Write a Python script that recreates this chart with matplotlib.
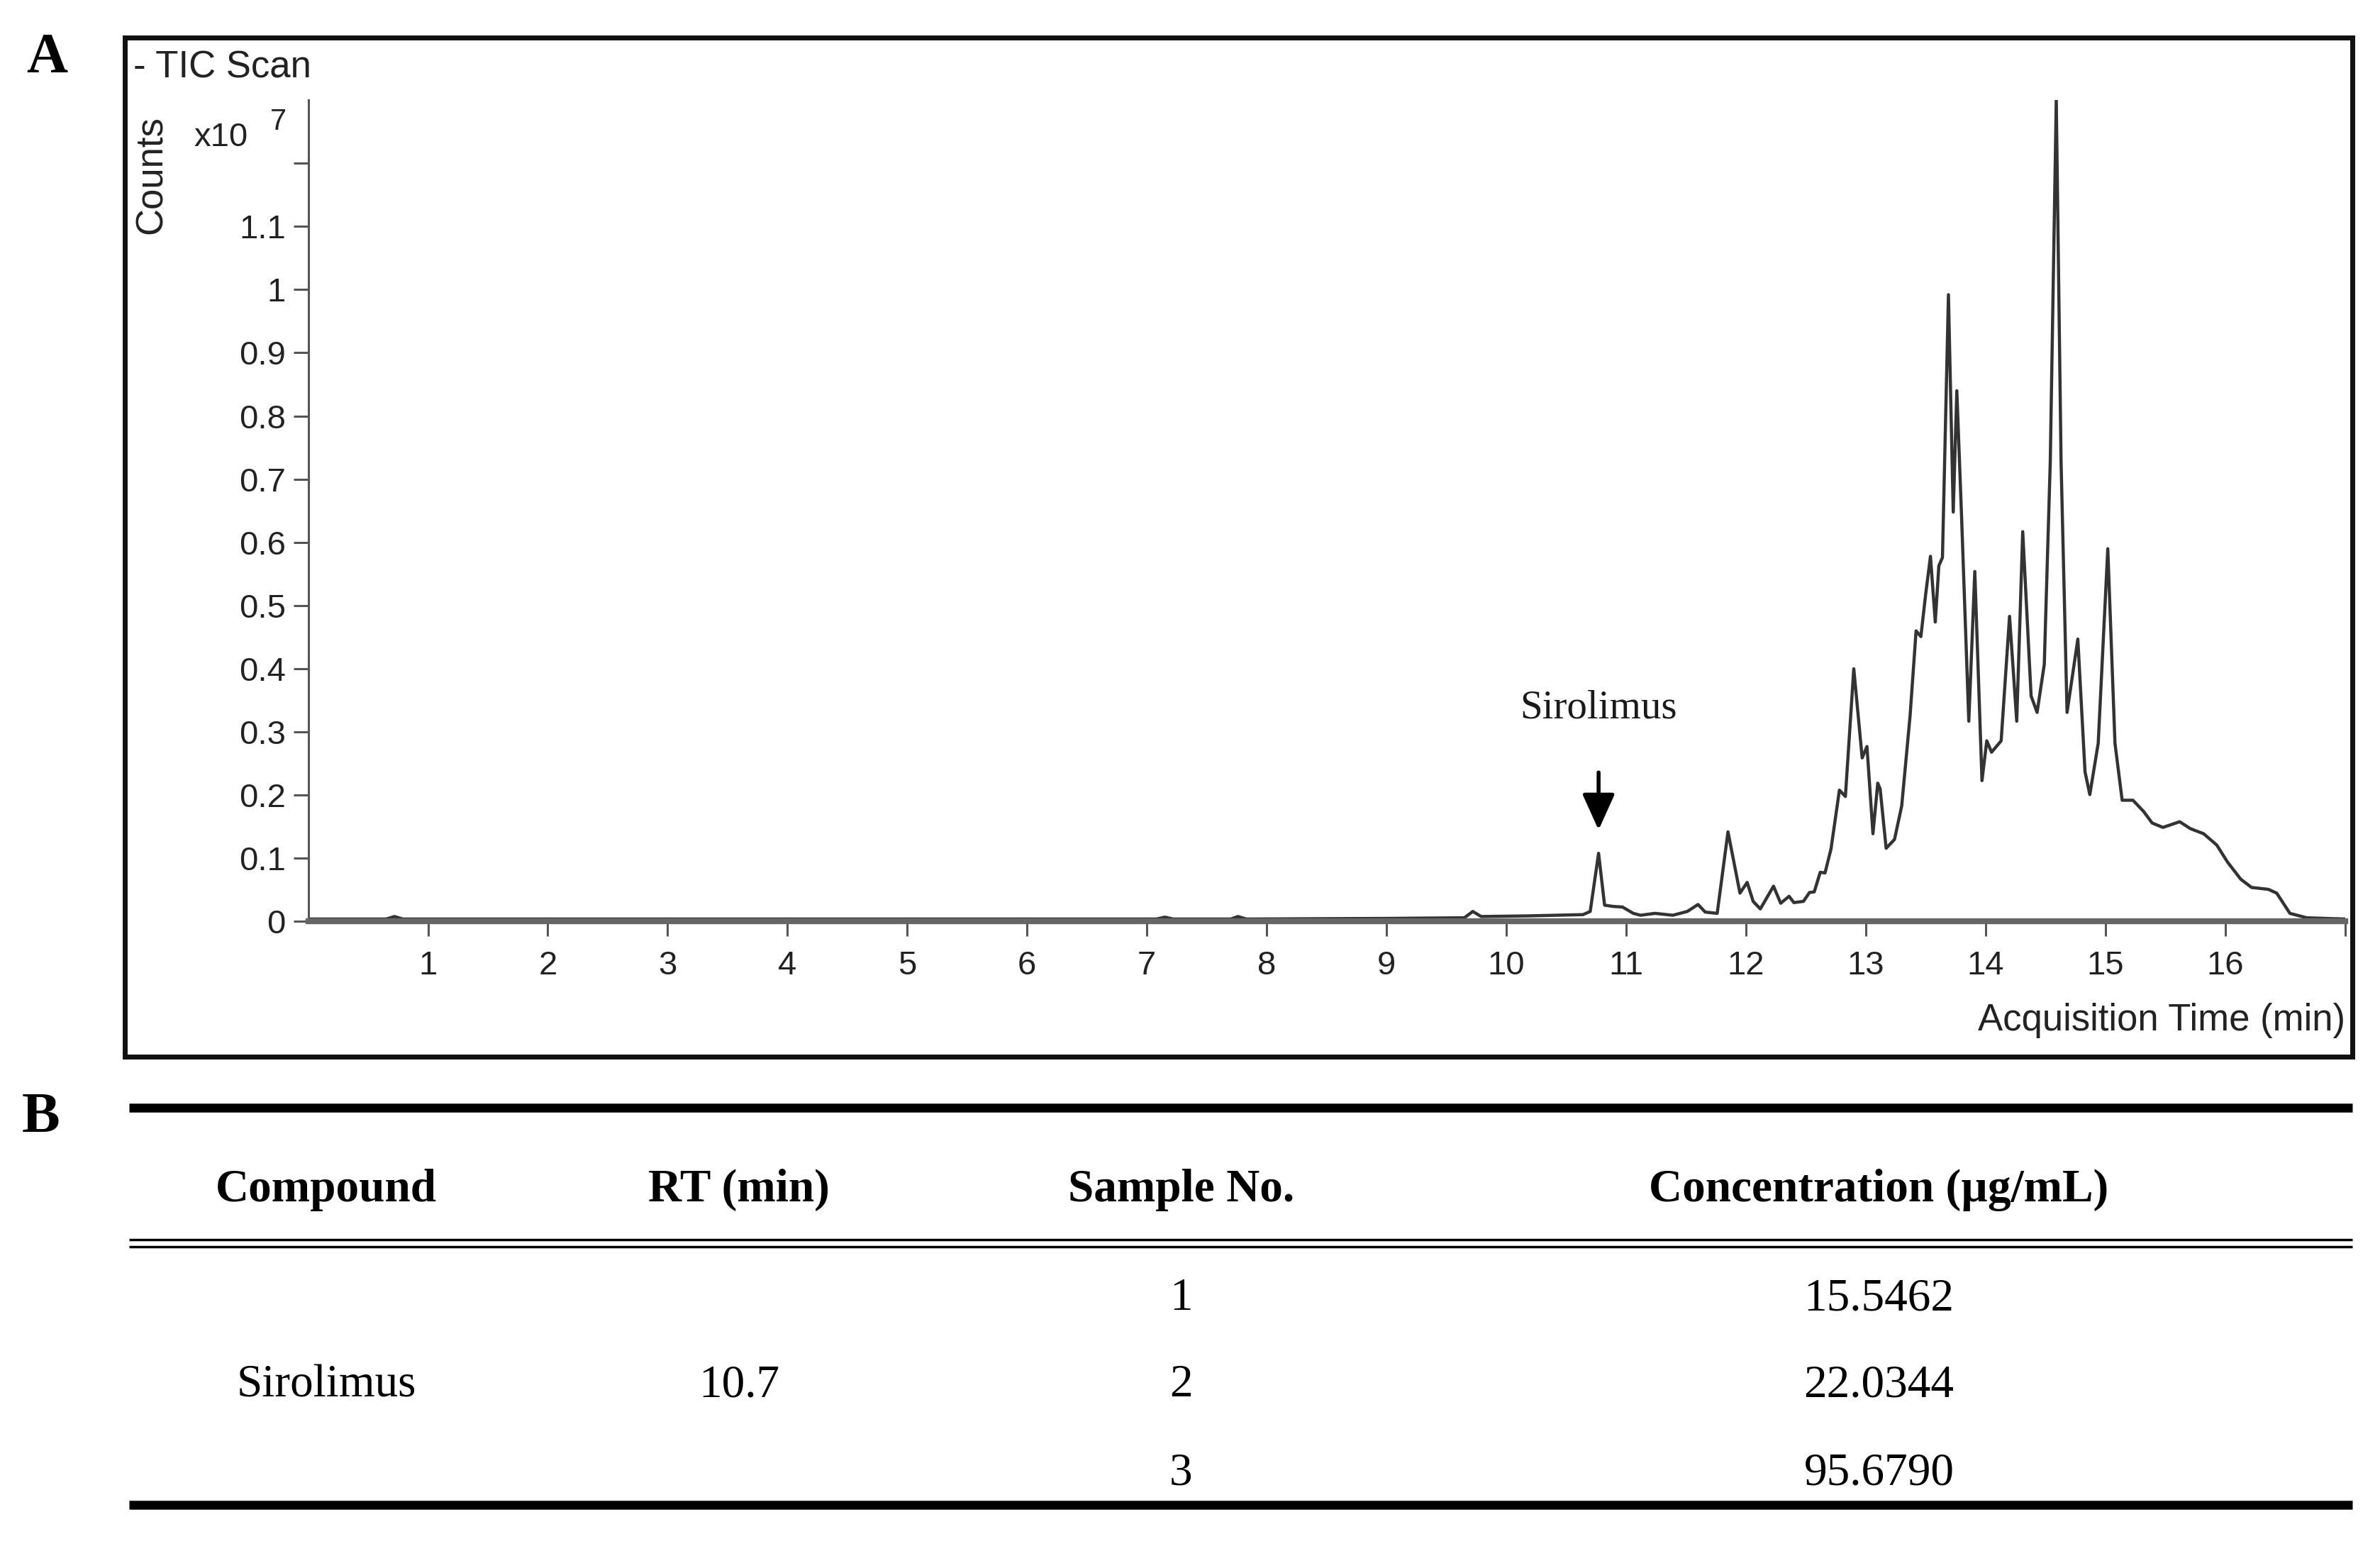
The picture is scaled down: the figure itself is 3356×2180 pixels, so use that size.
"""TIC chromatogram (panel A) with a quantitation table (panel B)."""

import matplotlib

matplotlib.use("Agg")

import matplotlib.pyplot as plt
from matplotlib.lines import Line2D
from matplotlib.patches import Rectangle

# chromatogram: time (min), counts (x10^7)
time_min = [
    0.00, 0.65, 0.72, 0.79, 3.50, 7.08, 7.15, 7.22, 7.70, 7.76, 7.83, 9.00, 9.65, 9.72, 9.79,
    10.18, 10.64, 10.70, 10.77, 10.82, 10.89, 10.97, 11.06, 11.12, 11.24, 11.39, 11.51, 11.60,
    11.66, 11.76, 11.85, 11.95, 12.01, 12.06, 12.12, 12.23, 12.29, 12.36, 12.40, 12.48, 12.53,
    12.57, 12.62, 12.66, 12.71, 12.78, 12.83, 12.90, 12.97, 13.01, 13.06, 13.10, 13.12, 13.17,
    13.24, 13.30, 13.37, 13.42, 13.46, 13.50, 13.54, 13.58, 13.61, 13.64, 13.69, 13.73, 13.76,
    13.80, 13.86, 13.91, 13.97, 14.01, 14.05, 14.13, 14.20, 14.26, 14.31, 14.38, 14.43, 14.49,
    14.54, 14.59, 14.63, 14.68, 14.77, 14.83, 14.87, 14.94, 15.02, 15.08, 15.14, 15.23, 15.32,
    15.39, 15.48, 15.62, 15.71, 15.82, 15.93, 16.02, 16.13, 16.22, 16.36, 16.43, 16.54, 16.68,
    17.00,
]
counts_e7 = [
    0.004, 0.004, 0.008, 0.004, 0.004, 0.004, 0.007, 0.004, 0.004, 0.008, 0.004, 0.005, 0.006,
    0.016, 0.008, 0.009, 0.011, 0.016, 0.108, 0.026, 0.024, 0.023, 0.013, 0.010, 0.013, 0.010,
    0.016, 0.027, 0.015, 0.013, 0.142, 0.045, 0.062, 0.032, 0.020, 0.056, 0.029, 0.040, 0.030,
    0.032, 0.046, 0.047, 0.078, 0.077, 0.115, 0.208, 0.198, 0.400, 0.259, 0.277, 0.139, 0.219,
    0.210, 0.116, 0.130, 0.183, 0.326, 0.460, 0.451, 0.518, 0.578, 0.474, 0.563, 0.576, 0.992,
    0.648, 0.840, 0.639, 0.317, 0.554, 0.223, 0.286, 0.268, 0.286, 0.483, 0.317, 0.617, 0.357,
    0.331, 0.407, 0.728, 1.300, 0.728, 0.331, 0.447, 0.237, 0.201, 0.282, 0.590, 0.282, 0.192,
    0.192, 0.174, 0.156, 0.149, 0.158, 0.147, 0.139, 0.121, 0.094, 0.067, 0.054, 0.051, 0.045,
    0.013, 0.006, 0.004,
]

peak_name = "Sirolimus"
peak_rt = 10.77

y_ticks = [0, 0.1, 0.2, 0.3, 0.4, 0.5, 0.6, 0.7, 0.8, 0.9, 1.0, 1.1, 1.2]
y_tick_labels = ["0", "0.1", "0.2", "0.3", "0.4", "0.5", "0.6", "0.7", "0.8", "0.9", "1", "1.1", ""]
x_ticks = list(range(1, 18))
x_tick_labels = [str(i) for i in range(1, 17)] + [""]

# table B
table_header = ["Compound", "RT (min)", "Sample No.", "Concentration (\u00b5g/mL)"]
compound = "Sirolimus"
rt_value = "10.7"
sample_no = ["1", "2", "3"]
concentration = ["15.5462", "22.0344", "95.6790"]

SANS = ["Liberation Sans", "DejaVu Sans"]
SERIF = ["Liberation Serif", "DejaVu Serif"]
LINE = "#333333"
AXIS = "#555555"
TEXT = "#222222"

fig = plt.figure(figsize=(33.56, 21.8), dpi=100)

# ---- panel A ----
fig.add_artist(Rectangle((0.0523, 0.3167), 0.9362, 0.6588, transform=fig.transFigure,
                         fill=False, lw=5, edgecolor="#111111"))
fig.text(0.011, 0.962, "A", family=SERIF, weight="bold", fontsize=58, va="center", ha="left")

ax = fig.add_axes([0.1295, 0.4039, 0.8558, 0.5314])
ax.plot(time_min, counts_e7, color=LINE, lw=3.2, solid_joinstyle="round")
ax.set_xlim(0, 17)
ax.set_ylim(0, 1.3)
for side in ("top", "right"):
    ax.spines[side].set_visible(False)
ax.spines["left"].set_color(AXIS)
ax.spines["left"].set_linewidth(2.2)
ax.spines["bottom"].set_color("#666666")
ax.spines["bottom"].set_linewidth(6)
ax.set_yticks(y_ticks)
ax.set_yticklabels(y_tick_labels)
ax.set_xticks(x_ticks)
ax.set_xticklabels(x_tick_labels)
ax.tick_params(axis="both", labelsize=34, width=2.2, length=15)
ax.tick_params(axis="x", pad=14, colors=AXIS, labelcolor=TEXT)
ax.tick_params(axis="y", pad=8, colors=AXIS, labelcolor=TEXT)
for lab in ax.get_xticklabels() + ax.get_yticklabels():
    lab.set_family(SANS)

# peak annotation
ax.annotate("", xy=(peak_rt, 0.145), xytext=(peak_rt, 0.236),
            arrowprops=dict(arrowstyle="-|>,head_length=1.55,head_width=0.7", mutation_scale=20,
                            color="black", lw=4, shrinkA=0, shrinkB=0))
ax.text(peak_rt, 0.338, peak_name, family=SERIF, fontsize=41, ha="center", va="center",
        color="#1a1a1a")

fig.text(0.0561, 0.956, "- TIC Scan", family=SANS, fontsize=38, ha="left", va="center", color=TEXT)
fig.text(0.0638, 0.887, "Counts", family=SANS, fontsize=38, rotation=90, ha="center", va="center",
         color=TEXT)
fig.text(0.0815, 0.911, "x10", family=SANS, fontsize=34, ha="left", va="center", color=TEXT)
fig.text(0.1135, 0.921, "7", family=SANS, fontsize=30, ha="left", va="center", color=TEXT)
ax.text(1.0, -0.12, "Acquisition Time (min)", transform=ax.transAxes, family=SANS, fontsize=38,
        ha="right", va="center", color=TEXT)

# ---- panel B ----
fig.text(0.009, 0.277, "B", family=SERIF, weight="bold", fontsize=58, va="center", ha="left")

x0, x1 = 0.0542, 0.9885
for y, lw in [(0.2833, 9), (0.1980, 2.5), (0.1935, 2.5), (0.0265, 9)]:
    fig.add_artist(Line2D([x0, x1], [y, y], transform=fig.transFigure, color="black", lw=lw,
                          solid_capstyle="butt"))

col_x = [0.1371, 0.3106, 0.4962, 0.7895]
header_y = 0.2304
row_y = [0.1598, 0.1039, 0.0471]

for cx, name in zip(col_x, table_header):
    fig.text(cx, header_y, name, family=SERIF, weight="bold", fontsize=47, ha="center", va="center")

fig.text(col_x[0], row_y[1], compound, family=SERIF, fontsize=47, ha="center", va="center")
fig.text(col_x[1], row_y[1], rt_value, family=SERIF, fontsize=47, ha="center", va="center")
for y, s, c in zip(row_y, sample_no, concentration):
    fig.text(col_x[2], y, s, family=SERIF, fontsize=47, ha="center", va="center")
    fig.text(col_x[3], y, c, family=SERIF, fontsize=47, ha="center", va="center")

fig.savefig("out.png", dpi=100)
plt.close(fig)
